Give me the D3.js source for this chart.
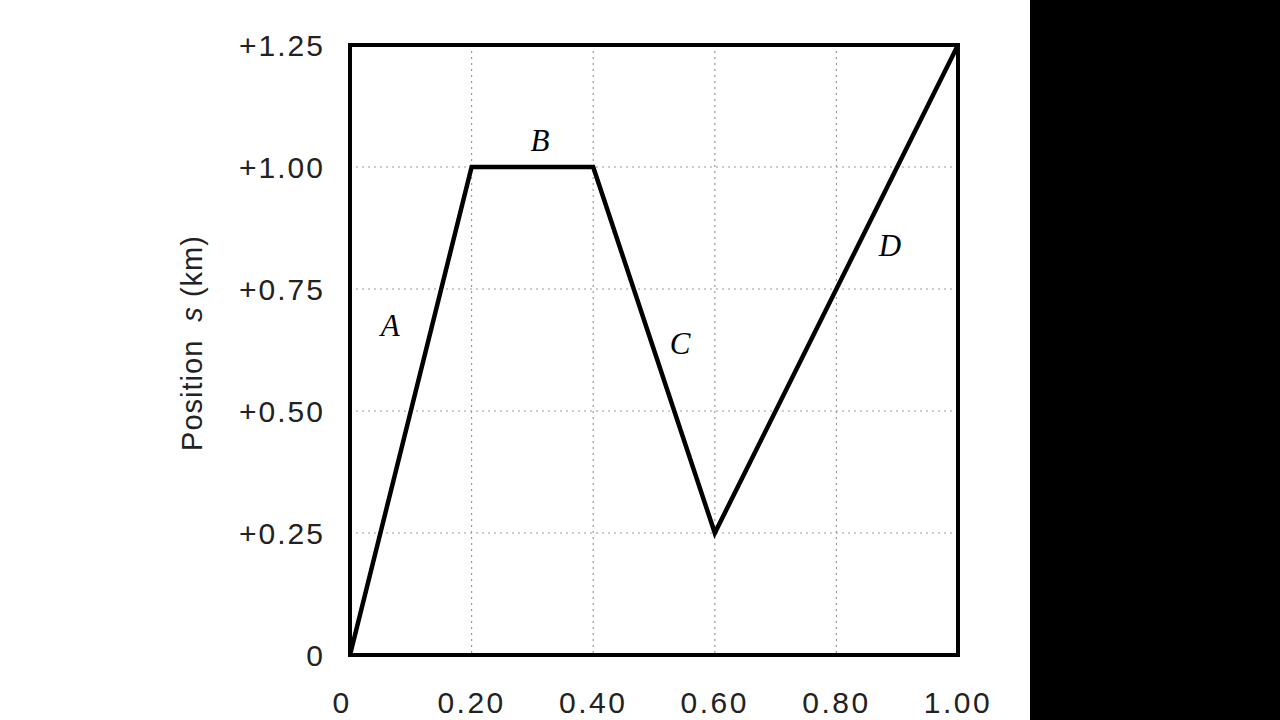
<!DOCTYPE html>
<html>
<head>
<meta charset="utf-8">
<script src="https://cdn.jsdelivr.net/npm/d3@7.9.0/dist/d3.min.js"></script>
<style>
  body { margin: 0; background: #fff; }
  svg { display: block; }
</style>
</head>
<body>
<svg id="chart" width="1280" height="720"></svg>
<script>
// data
const times = [0, 0.2, 0.4, 0.6, 1.0];
const positions = [0, 1.0, 1.0, 0.25, 1.25];
const xTicks = [0, 0.2, 0.4, 0.6, 0.8, 1.0];
const xTickLabels = ['0', '0.20', '0.40', '0.60', '0.80', '1.00'];
const yTicks = [0, 0.25, 0.5, 0.75, 1.0, 1.25];
const yTickLabels = ['0', '+0.25', '+0.50', '+0.75', '+1.00', '+1.25'];
const segNames = ['A', 'B', 'C', 'D'];
const segLabelT = [0.066, 0.3125, 0.543, 0.888];
const segLabelS = [0.676, 1.055, 0.639, 0.84];

const svg = d3.select('#chart');

const x = d3.scaleLinear().domain([0, 1]).range([350, 958]);
const y = d3.scaleLinear().domain([0, 1.25]).range([655, 45]);

// black panel on right
svg.append('rect').attr('x', 1030).attr('y', 0).attr('width', 250).attr('height', 720).attr('fill', '#000');

// grid
const grid = svg.append('g').attr('stroke', '#999').attr('stroke-dasharray', '2,4').attr('stroke-width', 1.2);
grid.selectAll('.gx').data(xTicks.slice(1, -1)).join('line')
  .attr('x1', d => x(d)).attr('x2', d => x(d)).attr('y1', y(1.25)).attr('y2', y(0));
grid.selectAll('.gy').data(yTicks.slice(1, -1)).join('line')
  .attr('y1', d => y(d)).attr('y2', d => y(d)).attr('x1', x(0)).attr('x2', x(1));

// frame
svg.append('rect').attr('x', x(0)).attr('y', y(1.25))
  .attr('width', x(1) - x(0)).attr('height', y(0) - y(1.25))
  .attr('fill', 'none').attr('stroke', '#000').attr('stroke-width', 4);

// axes labels
const font = 'Liberation Sans, Arial, sans-serif';
svg.append('g').selectAll('text').data(yTicks).join('text')
  .attr('x', 325).attr('y', d => y(d)).attr('dy', '0.35em')
  .attr('text-anchor', 'end').attr('font-family', font).attr('font-size', 30)
  .attr('letter-spacing', 2).attr('fill', '#222')
  .text((d, i) => yTickLabels[i]);
svg.append('g').selectAll('text').data(xTicks).join('text')
  .attr('x', (d, i) => x(d) - (i === 0 ? 8 : 0)).attr('y', 713)
  .attr('text-anchor', 'middle').attr('font-family', font).attr('font-size', 30)
  .attr('letter-spacing', 2.5).attr('fill', '#222')
  .text((d, i) => xTickLabels[i]);

svg.append('text')
  .attr('transform', 'translate(202,343) rotate(-90)')
  .attr('text-anchor', 'middle').attr('font-family', font).attr('font-size', 29)
  .attr('letter-spacing', 1).attr('fill', '#222')
  .html('Position&#160;&#160;<tspan font-style="italic">s</tspan> (km)');

// line
const pts = times.map((t, i) => [t, positions[i]]);
svg.append('path').datum(pts)
  .attr('d', d3.line().x(d => x(d[0])).y(d => y(d[1])))
  .attr('fill', 'none').attr('stroke', '#000').attr('stroke-width', 4.5)
  .attr('stroke-linejoin', 'miter');

// segment labels
svg.append('g').selectAll('text').data(segNames).join('text')
  .attr('x', (d, i) => x(segLabelT[i])).attr('y', (d, i) => y(segLabelS[i]))
  .attr('dy', '0.35em').attr('text-anchor', 'middle')
  .attr('font-family', 'Liberation Serif, Times New Roman, serif')
  .attr('font-style', 'italic').attr('font-size', 31)
  .text(d => d);
</script>
</body>
</html>
